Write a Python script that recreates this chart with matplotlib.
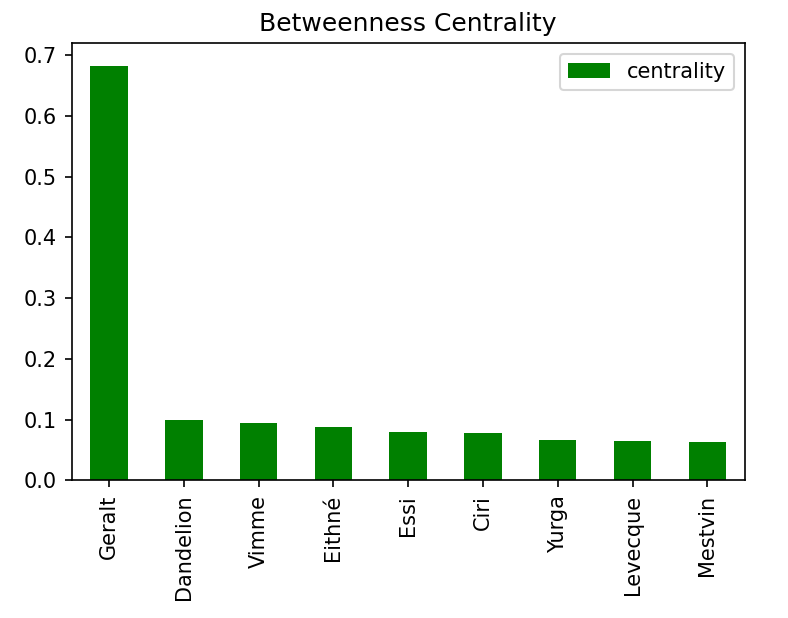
import matplotlib
matplotlib.use("Agg")
import matplotlib.pyplot as plt
import pandas as pd

names = ["Geralt", "Dandelion", "Vimme", "Eithné", "Essi", "Ciri", "Yurga", "Levecque", "Mestvin"]
centrality = [0.682, 0.100, 0.094, 0.087, 0.080, 0.077, 0.067, 0.064, 0.063]

df = pd.DataFrame({"centrality": centrality}, index=names)

fig = plt.figure(figsize=(788 / 150, 618 / 150), dpi=150)
ax = fig.add_axes([0.091, 0.223, 0.854, 0.707])
df.plot(kind="bar", color="green", ax=ax)
ax.set_title("Betweenness Centrality")
ax.set_ylim(0, 0.72)
ax.legend(loc="upper right")
fig.savefig("out.png", dpi=150)
